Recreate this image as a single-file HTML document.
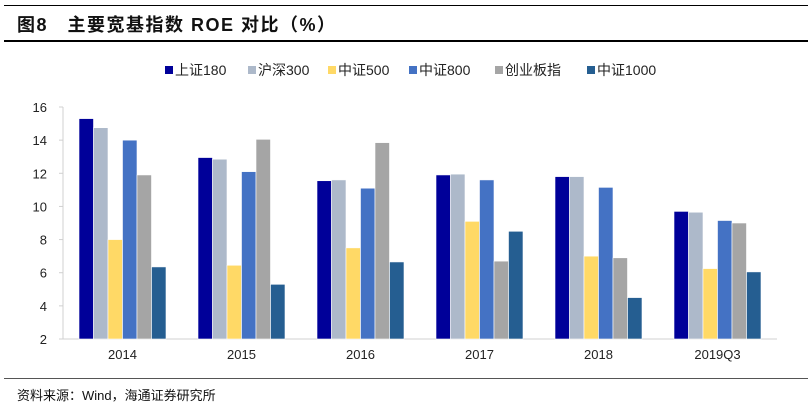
<!DOCTYPE html>
<html><head><meta charset="utf-8"><style>
body{margin:0;width:811px;height:411px;background:#fff;font-family:"Liberation Sans","Noto Sans CJK SC",sans-serif;overflow:hidden;position:relative}
.hl{position:absolute;left:4px;width:804px;background:#000}
#title{position:absolute;left:17px;top:11px;font-size:18px;font-weight:bold;color:#111;letter-spacing:1.5px}
#src{position:absolute;left:17px;top:385px;font-size:13px;color:#111}
</style></head><body>
<div class="hl" style="top:5px;height:1px"></div>
<div id="title">图8&nbsp;&nbsp;&nbsp;主要宽基指数 ROE 对比（%）</div>
<div class="hl" style="top:40px;height:2px"></div>
<svg id="chart" width="811" height="411" style="position:absolute;left:0;top:0"></svg>
<div class="hl" style="top:378px;height:1px;background:#555"></div>
<div id="src">资料来源：Wind，海通证券研究所</div>
<script>
const categories=["2014","2015","2016","2017","2018","2019Q3"];
const seriesNames=["上证180","沪深300","中证500","中证800","创业板指","中证1000"];
const s180=[15.3,12.95,11.55,11.9,11.8,9.7];
const s300=[14.75,12.85,11.6,11.95,11.8,9.65];
const s500=[8.0,6.45,7.5,9.1,7.0,6.25];
const s800=[14.0,12.1,11.1,11.6,11.15,9.15];
const sCyb=[11.9,14.05,13.85,6.7,6.9,9.0];
const s1000=[6.35,5.3,6.65,8.5,4.5,6.05];
const yTicks=[2,4,6,8,10,12,14,16];
const series=[s180,s300,s500,s800,sCyb,s1000];
const colors=["#000099","#ADB9CA","#FFD966","#4472C4","#A5A5A5","#255E91"];
const svg=document.getElementById('chart');const NS="http://www.w3.org/2000/svg";
const X0=63,X1=777,Y0=339,Y1=107,yMin=2,yMax=16;
const y=v=>Y0-(v-yMin)/(yMax-yMin)*(Y0-Y1);
const gw=(X1-X0)/categories.length,bw=14.5;
function mk(t,a){const e=document.createElementNS(NS,t);for(const k in a)e.setAttribute(k,a[k]);svg.appendChild(e);return e;}
let ax=mk('line',{x1:X0,y1:Y1,x2:X0,y2:Y0,stroke:'#d0d0d0'});

let bx=mk('line',{x1:X0,y1:Y0,x2:X1,y2:Y0,stroke:'#d0d0d0'});

yTicks.forEach(t=>{
 const tk=mk('line',{x1:X0-4,x2:X0,y1:y(t),y2:y(t),stroke:'#d0d0d0'});
 
 const l=mk('text',{x:X0-16,y:y(t)+5,'text-anchor':'end','font-size':'13',fill:'#222'});l.textContent=t;
 
});
categories.forEach((c,i)=>{
 const cx=X0+gw*(i+0.5);const start=cx-bw*series.length/2;
 series.forEach((s,j)=>{
  const r=mk('rect',{x:start+j*bw,y:y(s[i]),width:bw,height:Y0-y(s[i]),fill:colors[j],stroke:'#fff','stroke-width':0.6});
  
 });
 const l=mk('text',{x:cx,y:Y0+20,'text-anchor':'middle','font-size':'13',fill:'#222'});l.textContent=c;
 
});
const lx=[165,248,328,409,495,587];
seriesNames.forEach((n,j)=>{
 const r=mk('rect',{x:lx[j],y:66,width:8,height:8,fill:colors[j]});
 
 const t=mk('text',{x:lx[j]+10,y:75,'font-size':'14',fill:'#222'});t.textContent=n;
 
});
</script>
</body></html>
